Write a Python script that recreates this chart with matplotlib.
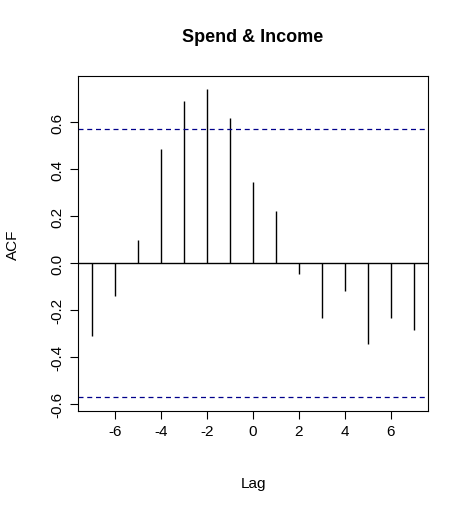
import matplotlib
matplotlib.use("Agg")
import matplotlib.pyplot as plt

lags = list(range(-7, 8))
acf = [-0.31, -0.14, 0.098, 0.485, 0.69, 0.74, 0.617, 0.345, 0.221, -0.047, -0.234, -0.119, -0.345, -0.234, -0.285]
ci = 0.57
xticks = [-6, -4, -2, 0, 2, 4, 6]
yticks = [-0.6, -0.4, -0.2, 0.0, 0.2, 0.4, 0.6]

plt.rcParams['font.family'] = ['Liberation Sans', 'DejaVu Sans']
fig = plt.figure(figsize=(4.68, 5.10), dpi=100)
ax = fig.add_axes([78/468, 1-412/510, 350/468, 335/510])
ax.vlines(lags, 0, acf, color='black', linewidth=1)
ax.axhline(0, color='black', linewidth=1)
ax.axhline(ci, color='#00008B', linestyle=(0, (4, 3)), linewidth=0.9)
ax.axhline(-ci, color='#00008B', linestyle=(0, (4, 3)), linewidth=0.9)
ax.set_xlim(-7.61, 7.61)
ax.set_ylim(-0.63, 0.796)
ax.set_xticks(xticks)
ax.set_xticklabels([str(t) for t in xticks], fontsize=11)
ax.set_yticks(yticks)
ax.set_yticklabels([f"{t:.1f}" for t in yticks], fontsize=11, rotation=90, va='center')
ax.tick_params(length=6)
ax.set_xlabel("Lag", fontsize=11, labelpad=27)
ax.set_ylabel("ACF", fontsize=11, labelpad=22)
ax.set_title("Spend & Income", fontsize=13, fontweight='bold', pad=25)
fig.savefig("out.png", dpi=100)
